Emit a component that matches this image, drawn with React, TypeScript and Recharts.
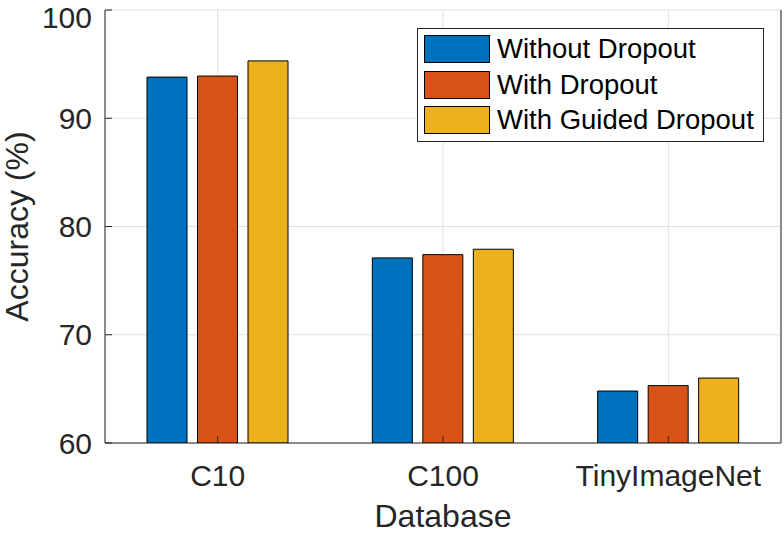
import { Bar, BarChart, CartesianGrid, Label, XAxis, YAxis } from 'recharts';

const databases = ['C10', 'C100', 'TinyImageNet'];
const withoutDropout = [93.8, 77.1, 64.8];
const withDropout = [93.9, 77.4, 65.3];
const withGuidedDropout = [95.3, 77.9, 66.0];
const yTicks = [60, 70, 80, 90, 100];

const seriesNames = ['Without Dropout', 'With Dropout', 'With Guided Dropout'];
const seriesColors = ['#0072BD', '#D95319', '#EDB120'];

const font = '"Liberation Sans", Arial, sans-serif';
const ink = '#262626';

const data = databases.map((name, i) => ({
  name,
  without: withoutDropout[i],
  dropout: withDropout[i],
  guided: withGuidedDropout[i],
}));

const keys = ['without', 'dropout', 'guided'];

function Blank() {
  return <g />;
}

export default function App() {
  return (
    <div style={{ position: 'absolute', left: 0, top: 0, width: 784, height: 533, background: '#fff' }}>
      <BarChart
        width={784}
        height={533}
        data={data}
        margin={{ top: 10, right: 0, left: 0, bottom: 0 }}
        barSize={40}
        barGap={10.5}
      >
        <CartesianGrid stroke="#dfdfdf" />
        <XAxis
          dataKey="name"
          height={90}
          tickSize={-7}
          tickMargin={29}
          stroke={ink}
          tick={{ fontSize: 30, fill: ink, fontFamily: font }}
        >
          <Label
            value="Database"
            position="insideBottom"
            offset={6}
            style={{ fontSize: 32, fill: ink, fontFamily: font }}
          />
        </XAxis>
        <XAxis xAxisId="top" dataKey="name" orientation="top" height={0} tickSize={-7} stroke={ink} tick={Blank} />
        <YAxis
          width={105}
          domain={[60, 100]}
          ticks={yTicks}
          tickSize={-7}
          tickMargin={20}
          stroke={ink}
          allowDataOverflow
          tick={{ fontSize: 30, fill: ink, fontFamily: font }}
        >
          <Label
            value="Accuracy (%)"
            angle={-90}
            position="insideLeft"
            offset={17}
            style={{ fontSize: 32, fill: ink, fontFamily: font, textAnchor: 'middle' }}
          />
        </YAxis>
        <YAxis
          yAxisId="right"
          orientation="right"
          width={3}
          domain={[60, 100]}
          ticks={yTicks}
          tickSize={-7}
          stroke={ink}
          tick={Blank}
        />
        {keys.map((k, i) => (
          <Bar
            key={k}
            dataKey={k}
            name={seriesNames[i]}
            fill={seriesColors[i]}
            stroke="#000"
            strokeWidth={1}
            isAnimationActive={false}
          />
        ))}
      </BarChart>
      <div
        style={{
          position: 'absolute',
          left: 417,
          top: 28,
          width: 345,
          height: 112,
          border: `1px solid ${ink}`,
          background: '#fff',
          fontFamily: font,
          fontSize: 27.5,
          color: '#000',
        }}
      >
        {seriesNames.map((n, i) => (
          <div key={n} style={{ position: 'absolute', left: 6, top: 6 + i * 35.5, height: 28, display: 'flex', alignItems: 'center' }}>
            <div
              style={{
                width: 64,
                height: 26,
                background: seriesColors[i],
                border: '1px solid #000',
                marginRight: 7,
              }}
            />
            <span style={{ whiteSpace: 'nowrap', lineHeight: '28px' }}>{n}</span>
          </div>
        ))}
      </div>
    </div>
  );
}
